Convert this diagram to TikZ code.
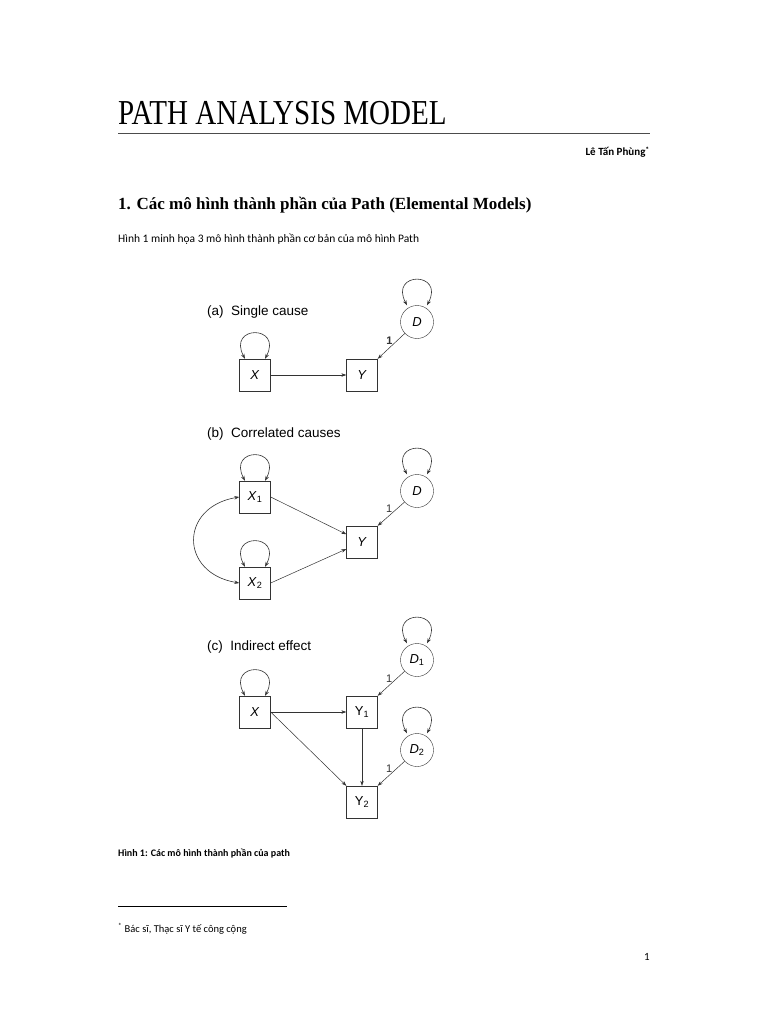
\documentclass[tikz,border=0pt]{standalone}
\usepackage{fontspec}
\setmainfont{Liberation Serif}
\newfontfamily\carl{Carlito}
\newfontfamily\ars{Liberation Sans}
\usetikzlibrary{arrows.meta}
\begin{document}
\begin{tikzpicture}[x=1pt,y=-1pt,
 bx/.style={draw=black!80,minimum width=31pt,minimum height=32pt,inner sep=0pt,font=\ars\fontsize{13}{13}\selectfont},
 cr/.style={draw=black!80,circle,minimum size=33pt,inner sep=0pt,font=\ars\fontsize{13}{13}\selectfont},
 ar/.style={-{Stealth[length=5pt,width=3.5pt]},black!80,line width=0.5pt},
 lp/.style={{Stealth[length=5pt,width=3.5pt]}-{Stealth[length=5pt,width=3.5pt]},black!80,line width=0.6pt},
 lab/.style={font=\ars\fontsize{13.5}{13.5}\selectfont,anchor=base west,inner sep=0pt},
 one/.style={font=\ars\fontsize{11}{11}\selectfont,inner sep=0pt}]
\useasboundingbox (0,0) rectangle (768,1024);
\fill[white] (0,0) rectangle (768,1024);
\newcommand\lpp[1]{\draw[lp] ([xshift=-10pt]#1.north) .. controls +(-18,-34) and +(18,-34) .. ([xshift=10pt]#1.north);}
\node[anchor=base west,inner sep=0pt,font=\fontsize{35}{35}\selectfont] (t) at (118,125) {\scalebox{0.83}[1]{PATH ANALYSIS MODEL}};
\draw[black!70,line width=0.6pt] (118,133) -- (650,133);
\node[anchor=base east,inner sep=0pt,font=\carl\bfseries\fontsize{11}{11}\selectfont] (au) at (650,156) {Lê Tấn Phùng\textsuperscript{*}};
\node[anchor=base west,inner sep=0pt,font=\bfseries\fontsize{17}{17}\selectfont] (h) at (118,210) {1. Các mô hình thành phần của Path (Elemental Models)};
\node[anchor=base west,inner sep=0pt,font=\carl\fontsize{11.5}{11.5}\selectfont] (p) at (118,242) {Hình 1 minh họa 3 mô hình thành phần cơ bản của mô hình Path};
% (a)
\node[lab] (la) at (207,315) {(a)\ \ Single cause};
\node[bx] (ax) at (255,375) {\textit{X}};
\node[bx] (ay) at (362,375) {\textit{Y}};
\node[cr] (ad) at (417,322) {\textit{D}};
\lpp{ax}\lpp{ad}
\draw[ar] (ax) -- (ay);
\draw[ar] (ad) -- (ay.north east) node[one,pos=0.3,left=4pt] {\bfseries 1};
% (b)
\node[lab] (lb) at (207,437) {(b)\ \ Correlated causes};
\node[bx] (bx1) at (255,497) {\textit{X}\textsubscript{1}};
\node[bx] (bx2) at (255,583) {\textit{X}\textsubscript{2}};
\node[bx] (by) at (362,542) {\textit{Y}};
\node[cr] (bd) at (417,491) {\textit{D}};
\lpp{bx1}\lpp{bx2}\lpp{bd}
\draw[ar] (bx1.east) -- (by);
\draw[ar] (bx2.east) -- (by);
\draw[ar] (bd) -- (by.north east) node[one,pos=0.3,left=4pt] {1};
\draw[lp] (bx1.west) .. controls +(-60,10) and +(-60,-10) .. (bx2.west);
% (c)
\node[lab] (lc) at (207,650) {(c)\ \ Indirect effect};
\node[bx] (cx) at (255,712) {\textit{X}};
\node[bx] (cy1) at (362,712) {Y\textsubscript{1}};
\node[bx] (cy2) at (362,802) {Y\textsubscript{2}};
\node[cr] (cd1) at (417,660) {\textit{D}\textsubscript{1}};
\node[cr] (cd2) at (417,750) {\textit{D}\textsubscript{2}};
\lpp{cx}\lpp{cd1}\lpp{cd2}
\draw[ar] (cx) -- (cy1);
\draw[ar] (cx.east) -- (cy2.north west);
\draw[ar] (cy1) -- (cy2);
\draw[ar] (cd1) -- (cy1.north east) node[one,pos=0.3,left=4pt] {1};
\draw[ar] (cd2) -- (cy2.north east) node[one,pos=0.3,left=4pt] {1};
\node[anchor=base west,inner sep=0pt,font=\carl\bfseries\fontsize{10}{10}\selectfont] (cap) at (118,856) {Hình 1: Các mô hình thành phần của path};
\draw[black,line width=0.5pt] (118,906) -- (287,906);
\node[anchor=base west,inner sep=0pt,font=\carl\fontsize{10.5}{10.5}\selectfont] (fn) at (118,932) {\textsuperscript{*}\ Bác sĩ, Thạc sĩ Y tế công cộng};
\node[anchor=base east,inner sep=0pt,font=\carl\fontsize{11}{11}\selectfont] (pg) at (650,960) {1};
\end{tikzpicture}
\end{document}
